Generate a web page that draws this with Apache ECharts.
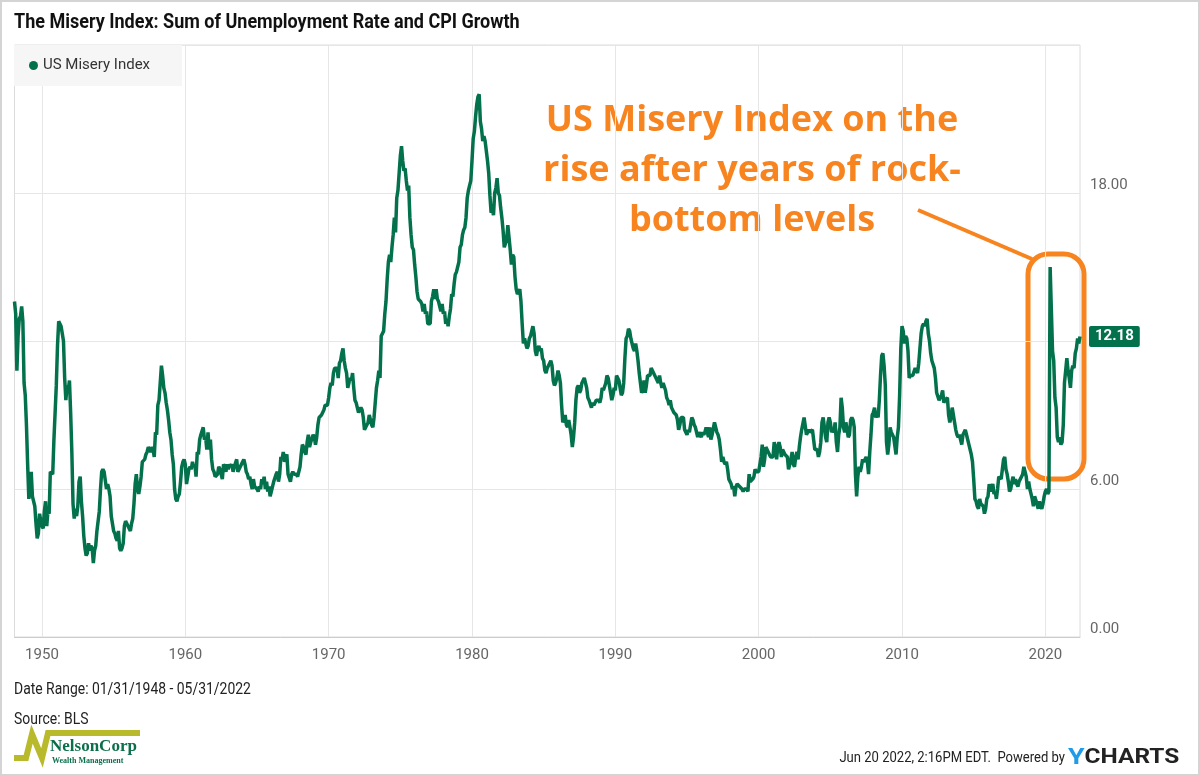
<!doctype html>
<html>
<head>
<meta charset="UTF-8">
<title>The Misery Index</title>
<script src="https://cdn.jsdelivr.net/npm/echarts@6/dist/echarts.min.js"></script>
<style>
  body { margin: 0; background: #fff; }
  #main { width: 1200px; height: 776px; }
</style>
</head>
<body>
<div id="main"></div>
<script>
// monthly misery index (unemployment rate + CPI yoy), Jan 1948 .. May 2022
var startYear = 1948;
var m1948_1959 = [
  13.6,13.1,10.8,12.2,12.9,13.0,13.4,12.8,10.3,9.8,8.6,7.0,
  5.6,6.0,6.7,5.7,5.7,5.3,4.6,4.0,4.2,5.0,4.7,4.5,
  4.4,5.1,5.5,4.5,5.1,5.0,6.7,6.7,6.6,8.0,8.0,10.2,
  11.8,12.8,12.7,12.6,12.3,12.0,10.5,9.6,10.2,10.0,10.4,9.1,
  7.5,5.4,4.8,5.2,4.9,5.3,6.3,6.5,5.5,4.9,4.1,3.6,
  3.3,3.4,3.8,3.5,3.7,3.6,3.0,3.5,3.7,4.3,4.3,5.1,
  6.0,6.7,6.8,6.7,6.7,6.0,6.2,6.0,5.7,4.9,4.9,4.3,
  4.2,4.0,3.9,4.3,3.6,3.5,3.6,3.8,4.5,4.7,4.6,4.6,
  4.4,4.3,4.6,4.8,5.4,6.2,6.6,6.0,5.8,6.1,6.5,7.1,
  7.1,7.2,7.4,7.5,7.7,7.6,7.5,7.7,7.6,7.3,8.3,8.2,
  9.4,9.6,10.3,11.0,10.6,10.1,9.9,9.5,9.2,8.8,8.3,8.0,
  7.4,7.0,6.0,5.6,5.5,5.7,5.8,6.3,6.9,7.1,7.2,7.0
];
var m1960s = [
  6.2,6.5,6.8,6.9,6.8,7.1,6.9,7.0,6.5,7.5,7.4,8.0,
  8.2,8.2,8.5,8.0,8.1,7.6,8.3,7.6,8.0,7.2,6.8,6.7,
  6.5,6.5,6.6,6.9,6.8,6.8,6.4,7.0,6.9,6.7,7.0,6.8,
  7.0,6.9,7.0,6.7,6.9,6.9,7.2,6.7,6.8,6.8,7.0,7.1,
  7.2,7.0,6.7,6.6,6.4,6.5,6.2,6.0,6.4,6.1,6.1,6.0,
  5.9,6.1,6.0,6.4,6.2,6.5,6.0,6.3,5.9,6.1,5.7,5.9,
  5.9,6.3,6.3,6.6,6.7,6.3,6.6,7.3,7.2,7.5,7.1,7.3,
  7.4,6.6,6.6,6.3,6.6,6.7,6.6,6.6,6.6,6.5,6.7,6.9,
  7.4,7.8,7.7,7.5,7.4,7.9,8.2,7.7,7.9,7.9,8.2,8.1,
  7.8,8.1,8.6,8.9,8.9,9.0,9.0,9.2,9.4,9.4,9.4,9.7
];
var m1970s = [
  10.1,10.3,10.2,10.7,10.9,10.9,10.9,10.5,11.1,11.2,11.5,11.7,
  11.2,10.9,10.7,10.1,10.3,10.5,10.4,10.7,10.1,9.6,9.5,9.3,
  9.1,9.2,9.3,9.2,8.9,8.4,8.5,8.5,8.7,9.0,9.0,8.6,
  8.5,8.9,9.5,10.1,10.4,10.8,10.5,12.2,12.2,12.4,13.1,13.6,
  14.5,15.2,15.5,15.2,15.8,16.3,17.0,16.4,17.8,18.1,18.8,19.5,
  19.9,19.3,18.9,19.0,18.5,18.1,18.3,17.0,16.3,15.8,15.7,15.1,
  14.6,14.0,13.7,13.7,13.6,13.5,13.2,13.5,13.1,13.2,12.7,12.7,
  12.7,13.6,13.8,14.1,13.7,14.1,13.7,13.6,13.4,13.2,13.5,13.1,
  13.2,12.7,12.9,12.6,13.0,13.3,13.9,13.8,14.3,14.7,14.8,15.0,
  15.2,15.8,15.9,16.3,16.5,16.6,17.0,17.8,18.1,18.1,18.5,19.3
];
var m1980s = [
  20.2,20.5,21.1,21.6,21.9,22.0,20.9,20.6,20.1,20.3,20.1,19.7,
  19.3,18.8,17.9,17.2,17.3,17.1,18.0,18.2,18.6,18.0,17.9,17.4,
  17.0,16.5,15.8,15.8,16.1,16.7,16.2,15.7,15.1,15.5,15.4,14.6,
  14.1,13.9,13.9,14.1,13.6,12.7,11.9,12.1,12.1,11.7,11.8,12.1,
  12.2,12.4,12.6,12.3,11.6,11.4,11.7,11.8,11.6,11.7,11.3,11.2,
  10.8,10.7,10.9,11.0,11.0,11.2,11.0,10.4,10.2,10.3,10.5,10.8,
  10.6,10.3,9.4,8.7,8.7,9.0,8.6,8.5,8.8,8.5,8.2,7.7,
  8.1,8.7,9.6,10.1,10.2,9.9,10.0,10.3,10.3,10.5,10.3,10.1,
  9.7,9.6,9.6,9.3,9.5,9.4,9.5,9.6,9.6,9.6,9.5,9.7,
  10.1,10.0,10.0,10.3,10.6,10.5,10.2,9.9,9.6,9.8,10.1,10.0
];
var m1990s = [
  10.6,10.6,10.4,10.1,9.8,9.9,10.3,11.3,12.1,12.2,12.5,12.4,
  12.1,11.9,11.7,11.6,11.9,11.6,11.2,10.7,10.3,9.9,10.0,10.4,
  9.9,10.2,10.6,10.6,10.6,10.9,10.9,10.7,10.6,10.5,10.4,10.3,
  10.6,10.3,10.1,10.3,10.3,10.0,9.7,9.6,9.4,9.6,9.3,9.2,
  9.1,9.1,9.0,8.8,8.4,8.6,8.9,8.9,8.9,8.4,8.3,8.2,
  8.4,8.3,8.3,8.9,8.8,8.6,8.5,8.3,8.1,8.3,8.2,8.1,
  8.3,8.2,8.3,8.5,8.5,8.1,8.5,8.0,8.2,8.2,8.7,8.7,
  8.3,8.2,8.0,7.6,7.1,7.3,7.1,7.0,7.1,6.8,6.4,6.4,
  6.2,6.0,6.1,5.7,6.1,6.2,6.2,6.1,6.1,6.0,5.9,6.0,
  6.0,6.0,5.9,6.6,6.3,6.3,6.4,6.5,6.8,6.7,6.7,6.7
];
var m2000s = [
  6.7,7.3,7.8,6.9,7.2,7.7,7.7,7.5,7.4,7.3,7.3,7.3,
  7.9,7.7,7.2,7.7,7.9,7.7,7.3,7.6,7.6,7.4,7.4,7.3,
  6.8,6.8,7.2,7.5,7.0,6.9,7.3,7.5,7.2,7.7,8.1,8.4,
  8.4,8.9,8.9,8.2,8.2,8.4,8.3,8.3,8.4,8.0,7.6,7.6,
  7.6,7.3,7.5,7.9,8.7,8.9,8.5,8.1,7.9,8.7,8.9,8.7,
  8.3,8.4,8.3,8.7,7.9,7.5,8.2,8.5,9.7,9.3,8.5,8.3,
  8.7,8.4,8.1,8.2,8.8,8.9,8.8,8.5,6.6,5.7,6.5,6.9,
  6.7,6.9,7.2,7.1,7.1,7.3,7.1,6.6,7.5,8.2,9.0,9.1,
  9.3,8.9,9.1,8.9,9.6,10.6,11.4,11.5,11.0,10.2,7.9,7.4,
  7.8,8.5,8.3,8.3,8.1,8.1,7.4,8.1,8.5,9.8,11.7,12.6
];
var m2010s = [
  12.4,11.9,12.2,12.1,11.6,10.5,10.6,10.6,10.6,10.6,10.9,10.8,
  10.7,11.1,11.7,12.3,12.6,12.7,12.6,12.8,12.9,12.3,12.0,11.5,
  11.2,11.2,10.9,10.5,9.9,9.9,9.6,9.7,9.8,10.0,9.5,9.6,
  9.6,9.7,9.0,8.7,8.9,9.3,9.3,8.7,8.4,8.2,8.1,8.2,
  8.2,7.8,8.2,8.2,8.4,8.2,8.2,7.8,7.6,7.4,7.1,6.4,
  5.6,5.5,5.3,5.2,5.6,5.4,5.4,5.3,5.0,5.2,5.6,5.7,
  6.2,5.9,5.9,6.2,5.8,5.9,5.6,6.0,6.5,6.5,6.4,6.8,
  7.2,7.3,6.8,6.6,6.3,5.9,6.0,6.3,6.5,6.2,6.4,6.2,
  6.1,6.3,6.4,6.5,6.6,6.9,6.7,6.5,6.0,6.3,6.0,5.8,
  5.6,5.3,5.7,5.7,5.4,5.2,5.5,5.3,5.2,5.4,5.7,5.9
];
var m2020s = [
  6.0,5.8,5.9,15.0,13.3,11.6,11.2,9.7,9.3,8.1,7.9,8.1,
  7.8,7.9,8.6,10.3,10.8,11.3,10.8,10.5,10.1,10.8,11.0,10.9,
  11.5,11.7,12.1,11.9,12.18
];
var decadeLabels = [1950, 1960, 1970, 1980, 1990, 2000, 2010, 2020];
var yTicks = [0, 6, 12, 18, 24];

var green = '#03714c';
var orange = '#f7841f';
var uiFont = 'Roboto, sans-serif';

var misery = [].concat(m1948_1959, m1960s, m1970s, m1980s, m1990s, m2000s, m2010s, m2020s);
// x = month-end as a fractional year
var seriesData = misery.map(function (v, i) {
  return [startYear + (i + 1) / 12, v];
});

var myChart = echarts.init(document.getElementById('main'), null, { renderer: 'canvas' });

var option = {
  animation: false,
  backgroundColor: '#fff',
  grid: {
    left: 14.5, right: 120, top: 45, bottom: 139,
    show: true, borderColor: '#dcdcdc', borderWidth: 1
  },
  legend: {
    left: 14, top: 45,
    padding: [13, 32, 13, 15],
    backgroundColor: '#f5f6f5',
    icon: 'circle', itemWidth: 9, itemHeight: 9,
    textStyle: { fontSize: 15, color: '#333', fontFamily: uiFont },
    data: ['US Misery Index']
  },
  xAxis: {
    type: 'value',
    min: seriesData[0][0],
    max: seriesData[seriesData.length - 1][0],
    axisLine: { lineStyle: { color: '#cccccc' } },
    axisTick: { show: false, customValues: decadeLabels },
    axisLabel: {
      customValues: decadeLabels,
      color: '#666', fontSize: 15, fontFamily: uiFont, margin: 11,
      formatter: function (v) { return String(Math.round(v)); }
    },
    splitLine: { show: true, lineStyle: { color: '#e6e6e6' } }
  },
  yAxis: {
    type: 'value',
    position: 'right',
    min: yTicks[0], max: yTicks[yTicks.length - 1], interval: 6,
    axisLine: { show: false },
    axisTick: { show: false },
    axisLabel: {
      color: '#666', fontSize: 15, fontFamily: uiFont, margin: 10,
      verticalAlign: 'bottom',
      // 12 is covered by the last-value flag, top line has no label
      formatter: function (v) { return (v === 12 || v === 24) ? '' : v.toFixed(2); }
    },
    splitLine: { lineStyle: { color: '#e6e6e6' } }
  },
  series: [{
    name: 'US Misery Index',
    type: 'line',
    data: seriesData,
    showSymbol: false,
    color: green,
    lineStyle: { width: 3.5, color: green },
    endLabel: {
      show: true,
      distance: 9,
      formatter: function (p) { return p.value[1].toFixed(2); },
      color: '#fff', backgroundColor: green,
      fontWeight: 'bold', fontSize: 15, fontFamily: uiFont,
      padding: [3, 6, 3, 6], borderRadius: 2
    }
  }],
  graphic: [
    // outer frame
    { type: 'rect', silent: true, shape: { x: 1, y: 1, width: 1198, height: 774 },
      style: { fill: null, stroke: '#d4d4d4', lineWidth: 2 } },
    { type: 'text', x: 14, y: 23, scaleX: 0.9,
      style: { text: 'The Misery Index: Sum of Unemployment Rate and CPI Growth',
        font: 'bold 20px Roboto', fill: '#111', textVerticalAlign: 'middle', verticalAlign: 'middle' } },
    // annotation
    { type: 'text', x: 752, y: 96,
      style: { text: 'US Misery Index on the\nrise after years of rock-\nbottom levels',
        font: 'bold 36px "Open Sans"', lineHeight: 50, fill: orange,
        textAlign: 'center', align: 'center' } },
    { type: 'line', shape: { x1: 918, y1: 210, x2: 1032, y2: 259 },
      style: { stroke: orange, lineWidth: 4 } },
    { type: 'rect', shape: { x: 1028, y: 254, width: 56, height: 225, r: 20 },
      style: { fill: null, stroke: orange, lineWidth: 5 } },
    // footer
    { type: 'text', x: 14, y: 690, scaleX: 0.87,
      style: { text: 'Date Range: 01/31/1948 - 05/31/2022', font: '16px Roboto', fill: '#222',
        textVerticalAlign: 'middle', verticalAlign: 'middle' } },
    { type: 'text', x: 14, y: 720, scaleX: 0.87,
      style: { text: 'Source: BLS', font: '16px Roboto', fill: '#222',
        textVerticalAlign: 'middle', verticalAlign: 'middle' } },
    // NelsonCorp logo
    { type: 'polyline', shape: { points: [[14, 758], [26, 758], [32, 734], [42, 758], [48, 733], [140, 733]] },
      style: { stroke: '#b8ba2c', lineWidth: 6, lineJoin: 'miter', fill: null } },
    { type: 'text', x: 50, y: 747,
      style: { text: 'NelsonCorp', font: 'bold 17px "Liberation Serif", serif', fill: '#0a6f4a',
        textVerticalAlign: 'middle', verticalAlign: 'middle' } },
    { type: 'text', x: 52, y: 761,
      style: { text: 'Wealth Management', font: 'bold 8px "Liberation Serif", serif', fill: '#0a6f4a',
        textVerticalAlign: 'middle', verticalAlign: 'middle' } },
    { type: 'text', x: 1065, y: 758, scaleX: 0.87,
      style: { text: 'Jun 20 2022, 2:16PM EDT.  Powered by', font: '15px Roboto', fill: '#222',
        textAlign: 'right', align: 'right', textVerticalAlign: 'middle', verticalAlign: 'middle' } },
    { type: 'text', x: 1068, y: 758, scaleX: 1.22,
      style: { text: '{y|Y}{c|CHARTS}',
        rich: { y: { font: 'bold 22px Roboto', fill: '#1e9be9' },
                c: { font: 'bold 20px Roboto', fill: '#222' } },
        textVerticalAlign: 'middle', verticalAlign: 'middle' } }
  ]
};

myChart.setOption(option);
</script>
</body>
</html>
